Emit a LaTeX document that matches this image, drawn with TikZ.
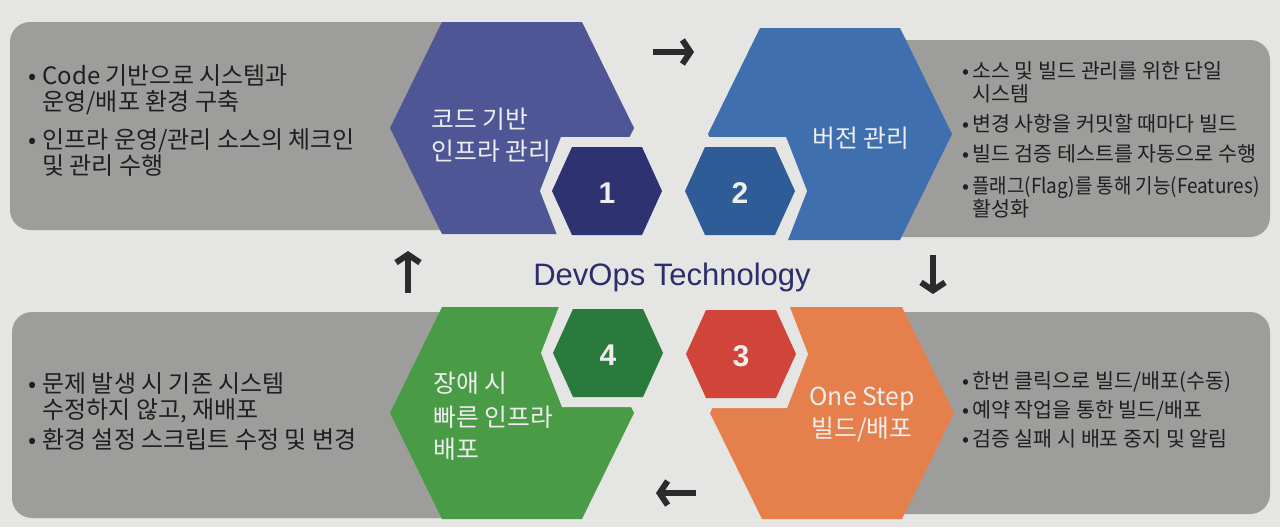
\documentclass[tikz,border=0pt]{standalone}
\usepackage{graphicx}
\usepackage{fontspec}
\setmainfont{Noto Sans CJK KR}
\newfontfamily\latinsans{Liberation Sans}
\usetikzlibrary{arrows.meta}
\definecolor{bgc}{HTML}{E5E5E3}
\definecolor{boxgray}{HTML}{9D9D9B}
\definecolor{hexA}{HTML}{4E5696}
\definecolor{hexAs}{HTML}{2F3270}
\definecolor{hexB}{HTML}{3F6FAE}
\definecolor{hexBs}{HTML}{2E5C97}
\definecolor{hexC}{HTML}{E5804C}
\definecolor{hexCs}{HTML}{D0443A}
\definecolor{hexD}{HTML}{4A9B45}
\definecolor{hexDs}{HTML}{2A7A3D}
\definecolor{txtdark}{HTML}{1F1F1F}
\definecolor{labelc}{HTML}{EEEEEE}
\definecolor{titlec}{HTML}{2B2E6B}
\definecolor{arrowc}{HTML}{2B2B2B}
\newcommand\blt[1]{\makebox[#1][l]{•}}
\tikzset{
  bighex/.pic={\fill[pic actions] (-122,0) -- (-70,-106) -- (70,-106) -- (122,0) -- (70,106) -- (-70,106) -- cycle;},
  smallhex/.pic={
    \fill[bgc] (-67,0) -- (-46,-54) -- (46,-54) -- (67,0) -- (46,54) -- (-46,54) -- cycle;
    \fill[pic actions] (-55,0) -- (-35,-44) -- (35,-44) -- (55,0) -- (35,44) -- (-35,44) -- cycle;},
  ltxt/.style={font=\fontsize{12}{14}\selectfont, text=txtdark, inner sep=0pt, anchor=base west},
  rtxt/.style={font=\fontsize{10.3}{12}\selectfont, text=txtdark, inner sep=0pt, anchor=base west},
  hlab/.style={font=\fontsize{12.4}{14}\selectfont, text=labelc, inner sep=0pt},
  digit/.style={font=\latinsans\bfseries\fontsize{15}{15}\selectfont, text=labelc, inner sep=0pt},
  arr/.style={draw=arrowc, line width=3pt, -{Straight Barb[length=4pt,width=12pt]}},
  graybox/.style={fill=boxgray, rounded corners=10pt}
}
\begin{document}
\begin{tikzpicture}[x=0.5pt,y=-0.5pt]
\fill[bgc] (0,0) rectangle (1280,527);
\useasboundingbox (0,0) rectangle (1280,527);
% gray boxes
\path[graybox] (10,22) rectangle (480,230);
\path[graybox] (880,40) rectangle (1270,237);
\path[graybox] (12,312) rectangle (480,518);
\path[graybox] (880,312) rectangle (1270,514);
% big hexagons
\pic[fill=hexA] at (512,128) {bighex};
\pic[fill=hexB] at (830,134) {bighex};
\pic[fill=hexC] at (832,413) {bighex};
\pic[fill=hexD] at (512,413) {bighex};
% small hexagons
\pic[fill=hexAs] at (607,191) {smallhex};
\pic[fill=hexBs] at (740,191) {smallhex};
\pic[fill=hexCs] at (741,354) {smallhex};
\pic[fill=hexDs] at (608,353) {smallhex};
% digits
\node[digit] (n1) at (607,193) {1};
\node[digit] (n2) at (740,193) {2};
\node[digit] (n3) at (741,356) {3};
\node[digit] (n4) at (608,355) {4};
% hexagon labels
\node[hlab, anchor=base west] (h1a) at (431,128) {코드 기반};
\node[hlab, anchor=base west] (h1b) at (431,160) {인프라 관리};
\node[hlab] (h2) at (861,138) {버전 관리};
\node[hlab, anchor=base] (h3a) at (862,405) {One Step};
\node[hlab, anchor=base] (h3b) at (862,437) {빌드/배포};
\node[hlab, anchor=base west] (h4a) at (433,392) {장애 시};
\node[hlab, anchor=base west] (h4b) at (433,426) {빠른 인프라};
\node[hlab, anchor=base west] (h4c) at (433,458) {배포};
% title
\node[font=\latinsans\fontsize{15.5}{16}\selectfont, text=titlec, anchor=base, inner sep=0pt] (title) at (672,285) {DevOps Technology};
% top-left text
\node[ltxt] (tl1) at (28,84) {\blt{7pt}Code 기반으로 시스템과};
\node[ltxt] (tl2) at (42,110) {운영/배포 환경 구축};
\node[ltxt] (tl3) at (28,148) {\blt{7pt}인프라 운영/관리 소스의 체크인};
\node[ltxt] (tl4) at (42,174) {및 관리 수행};
% top-right text
\node[rtxt] (tr1) at (962,78) {\blt{5pt}소스 및 빌드 관리를 위한 단일};
\node[rtxt] (tr2) at (972,101) {시스템};
\node[rtxt] (tr3) at (962,131) {\blt{5pt}변경 사항을 커밋할 때마다 빌드};
\node[rtxt] (tr4) at (962,161) {\blt{5pt}빌드 검증 테스트를 자동으로 수행};
\node[rtxt] (tr5) at (962,193) {\blt{5pt}\scalebox{0.92}[1]{플래그(Flag)를 통해 기능(Features)}};
\node[rtxt] (tr6) at (972,216) {활성화};
% bottom-right text
\node[rtxt] (br1) at (962,388) {\blt{5pt}한번 클릭으로 빌드/배포(수동)};
\node[rtxt] (br2) at (962,417) {\blt{5pt}예약 작업을 통한 빌드/배포};
\node[rtxt] (br3) at (962,446) {\blt{5pt}검증 실패 시 배포 중지 및 알림};
% bottom-left text
\node[ltxt] (bl1) at (28,392) {\blt{7pt}문제 발생 시 기존 시스템};
\node[ltxt] (bl2) at (42,418) {수정하지 않고, 재배포};
\node[ltxt] (bl3) at (28,448) {\blt{7pt}환경 설정 스크립트 수정 및 변경};
% arrows
\coordinate (a1s) at (653,52); \coordinate (a1e) at (694,52);
\coordinate (a2s) at (933,255); \coordinate (a2e) at (933,294);
\coordinate (a3s) at (696,493); \coordinate (a3e) at (656,493);
\coordinate (a4s) at (408,293); \coordinate (a4e) at (408,251);
\draw[arr] (a1s) -- (a1e);
\draw[arr] (a2s) -- (a2e);
\draw[arr] (a3s) -- (a3e);
\draw[arr] (a4s) -- (a4e);
\end{tikzpicture}
\end{document}
